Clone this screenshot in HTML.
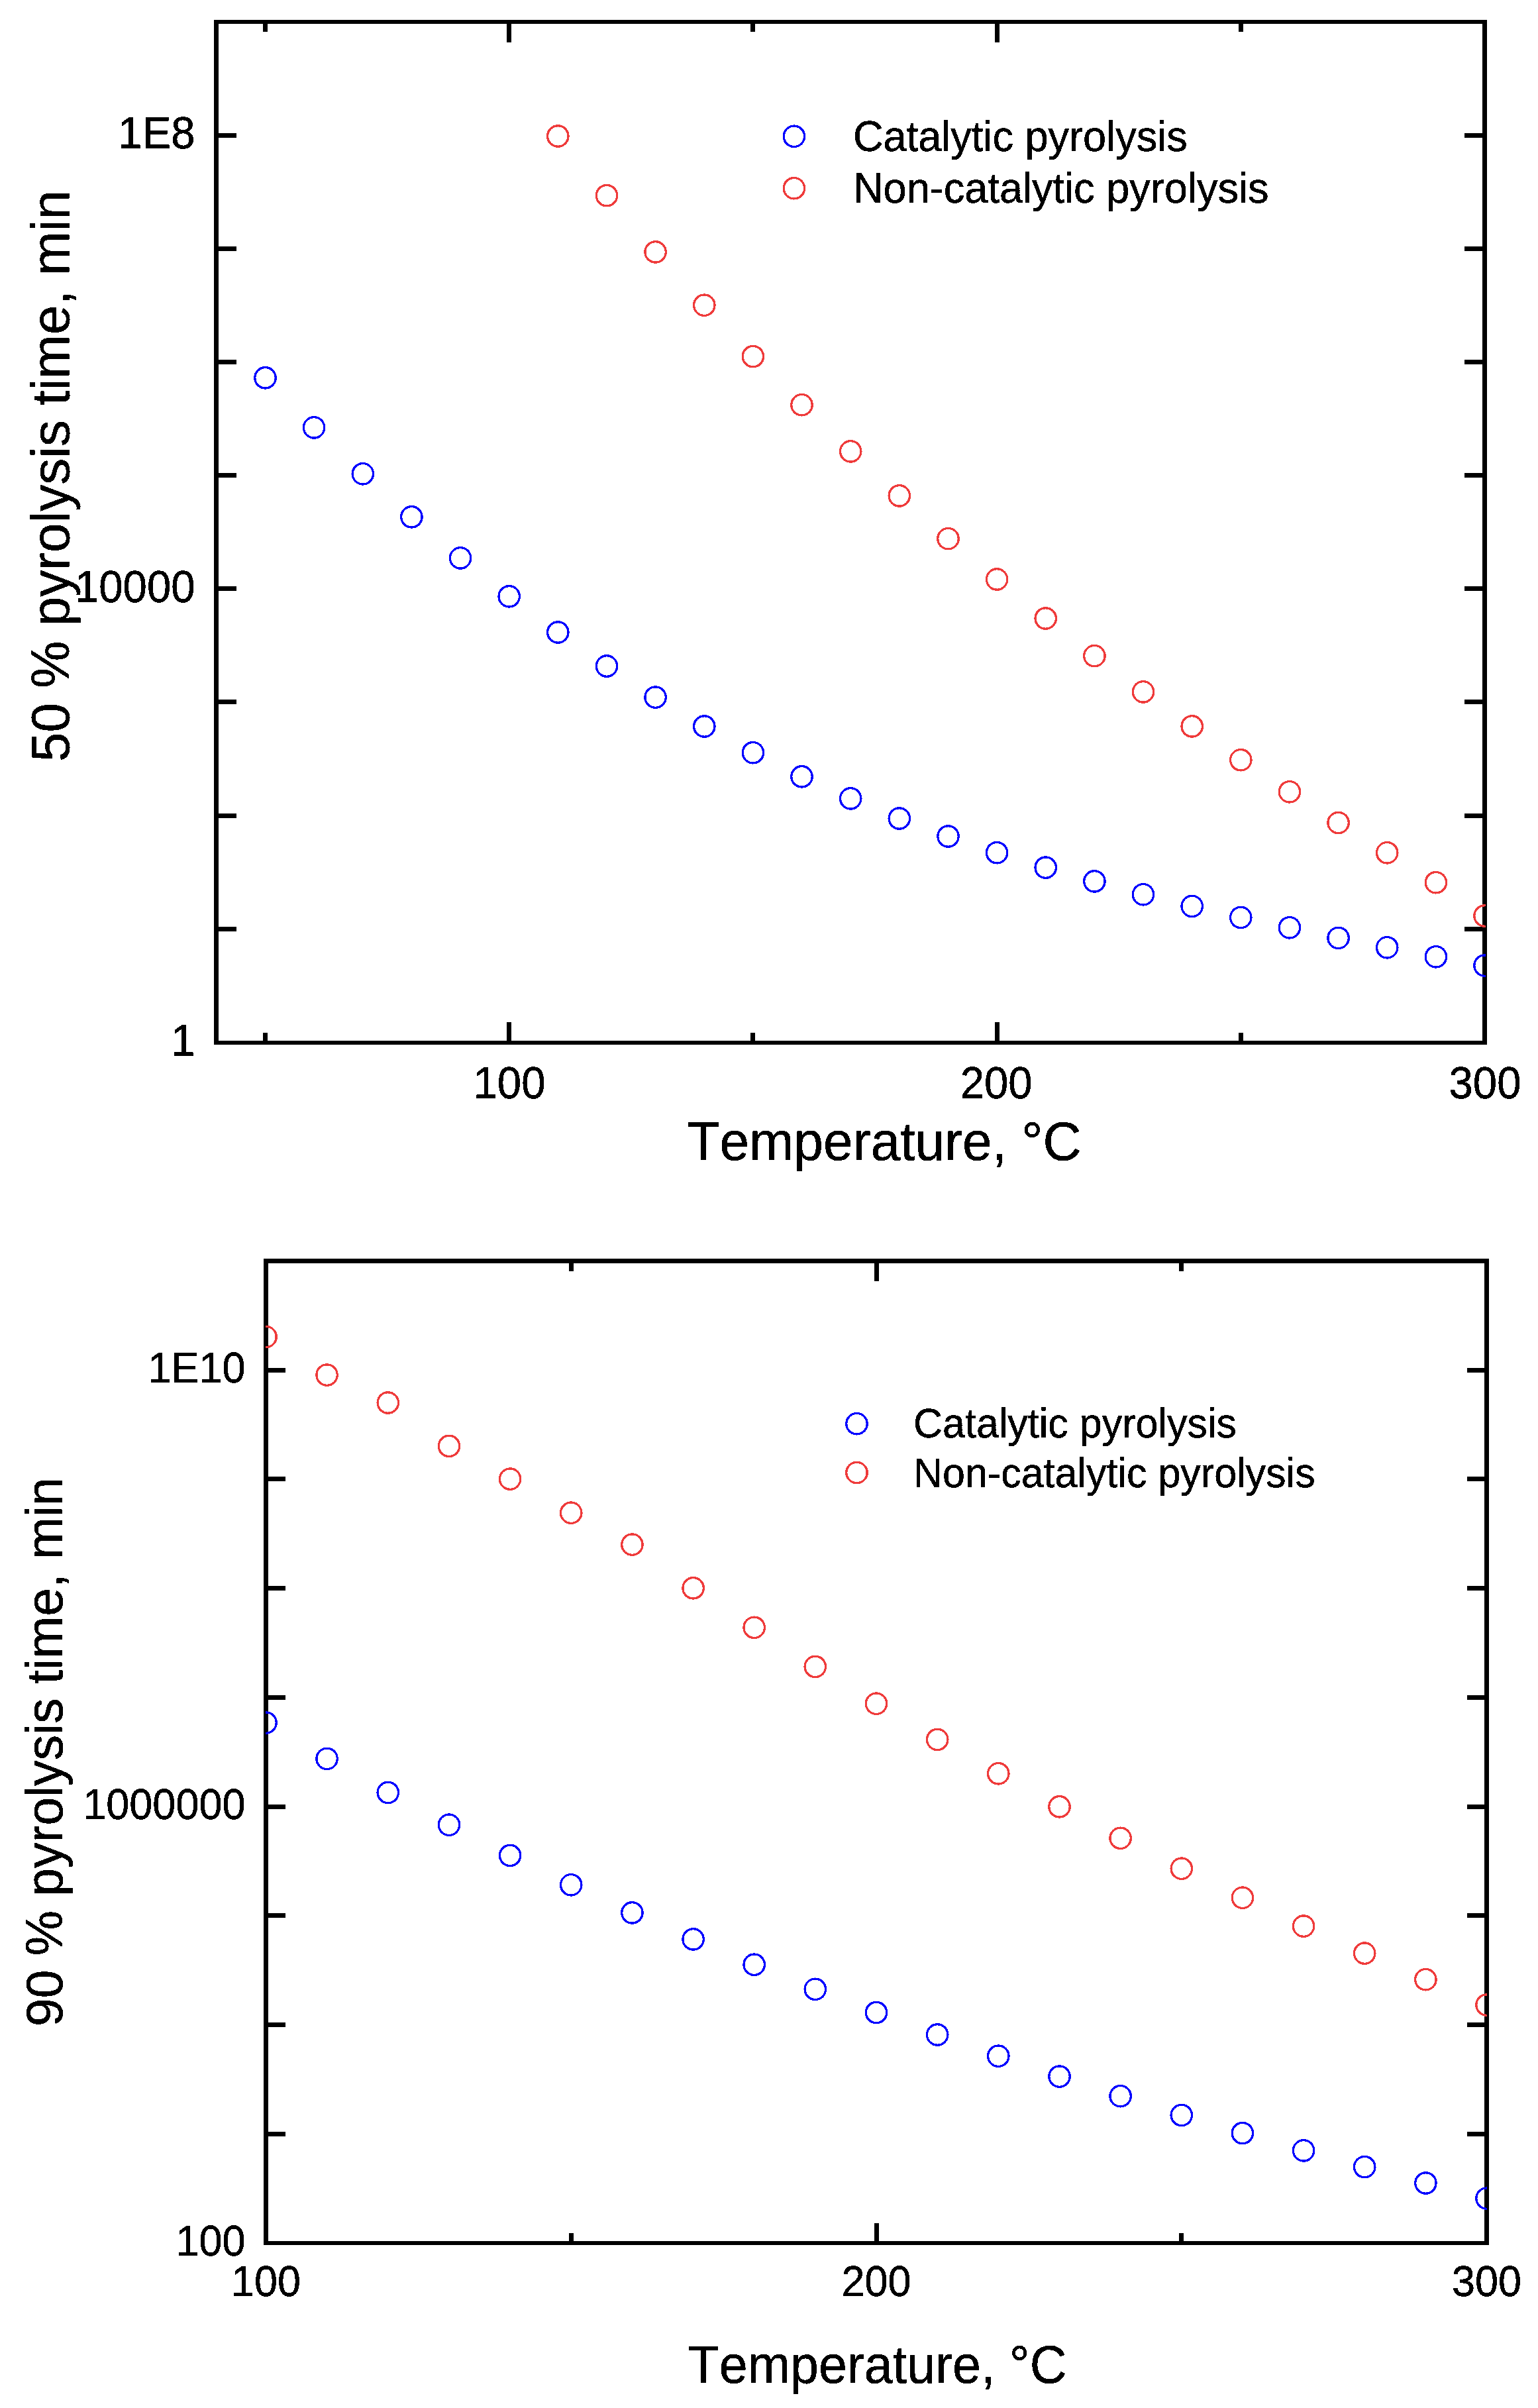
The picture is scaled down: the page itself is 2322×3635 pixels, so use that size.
<!DOCTYPE html>
<html lang="en"><head><meta charset="utf-8"><title>Pyrolysis time vs temperature</title>
<style>html,body{margin:0;padding:0;background:#fff}body{width:2322px;height:3635px;overflow:hidden}svg{display:block}text{font-family:"Liberation Sans",Arial,Helvetica,sans-serif;fill:#000;stroke:#000;stroke-width:0.5px;font-kerning:none;filter:url(#bw)}.fr{fill:#000;shape-rendering:crispEdges}.b{fill:none;stroke:#0000ff;stroke-width:3.3;shape-rendering:crispEdges}.r{fill:none;stroke:#ef3b3b;stroke-width:3.3;shape-rendering:crispEdges}</style></head><body>
<svg width="2322" height="3635" viewBox="0 0 2322 3635">
<defs><filter id="bw" x="-5%" y="-20%" width="110%" height="140%" color-interpolation-filters="sRGB"><feComponentTransfer><feFuncA type="discrete" tableValues="0 1"/></feComponentTransfer></filter></defs>
<rect x="0" y="0" width="2322" height="3635" fill="#fff"/>
<g id="plot1">
<rect class="fr" x="323" y="30" width="7" height="1547"/>
<rect class="fr" x="2238" y="30" width="7" height="1547"/>
<rect class="fr" x="323" y="30" width="1922" height="6"/>
<rect class="fr" x="323" y="1571" width="1922" height="6"/>
<rect class="fr" x="397" y="1559" width="7" height="18"/>
<rect class="fr" x="397" y="30" width="7" height="18"/>
<rect class="fr" x="765" y="1543" width="7" height="34"/>
<rect class="fr" x="765" y="30" width="7" height="34"/>
<rect class="fr" x="1133" y="1559" width="7" height="18"/>
<rect class="fr" x="1133" y="30" width="7" height="18"/>
<rect class="fr" x="1502" y="1543" width="7" height="34"/>
<rect class="fr" x="1502" y="30" width="7" height="34"/>
<rect class="fr" x="1870" y="1559" width="7" height="18"/>
<rect class="fr" x="1870" y="30" width="7" height="18"/>
<rect class="fr" x="323" y="201" width="34" height="7"/>
<rect class="fr" x="2211" y="201" width="34" height="7"/>
<rect class="fr" x="323" y="372" width="34" height="7"/>
<rect class="fr" x="2211" y="372" width="34" height="7"/>
<rect class="fr" x="323" y="543" width="34" height="7"/>
<rect class="fr" x="2211" y="543" width="34" height="7"/>
<rect class="fr" x="323" y="714" width="34" height="7"/>
<rect class="fr" x="2211" y="714" width="34" height="7"/>
<rect class="fr" x="323" y="885" width="34" height="7"/>
<rect class="fr" x="2211" y="885" width="34" height="7"/>
<rect class="fr" x="323" y="1056" width="34" height="7"/>
<rect class="fr" x="2211" y="1056" width="34" height="7"/>
<rect class="fr" x="323" y="1228" width="34" height="7"/>
<rect class="fr" x="2211" y="1228" width="34" height="7"/>
<rect class="fr" x="323" y="1399" width="34" height="7"/>
<rect class="fr" x="2211" y="1399" width="34" height="7"/>
<text transform="translate(769,1658.4) scale(1,1.05)" font-size="65.3" text-anchor="middle">100</text>
<text transform="translate(1504.2,1658.4) scale(1,1.05)" font-size="65.3" text-anchor="middle">200</text>
<text transform="translate(2242,1658.4) scale(1,1.05)" font-size="65.3" text-anchor="middle">300</text>
<text transform="translate(294.5,223.6) scale(1,1.05)" font-size="65.3" text-anchor="end">1E8</text>
<text transform="translate(294.5,908.6) scale(1,1.05)" font-size="65.3" text-anchor="end">10000</text>
<text transform="translate(294.5,1594) scale(1,1.05)" font-size="65.3" text-anchor="end">1</text>
<text transform="translate(1335,1751) scale(1,1.02)" font-size="80.4" text-anchor="middle">Temperature, °C</text>
<text transform="translate(104.4,1150) rotate(-90) scale(1,1.02)" font-size="80.06">50 % pyrolysis time, min</text>
<clipPath id="c1"><rect x="326.5" y="33" width="1916.5" height="1541"/></clipPath>
<g clip-path="url(#c1)">
<circle class="b" cx="400.5" cy="570.3" r="15.7"/>
<circle class="b" cx="474.1" cy="645.4" r="15.7"/>
<circle class="b" cx="547.8" cy="715.3" r="15.7"/>
<circle class="b" cx="621.4" cy="780.3" r="15.7"/>
<circle class="b" cx="695.1" cy="842.4" r="15.7"/>
<circle class="b" cx="768.7" cy="900.3" r="15.7"/>
<circle class="b" cx="842.3" cy="954.5" r="15.7"/>
<circle class="b" cx="916.0" cy="1005.5" r="15.7"/>
<circle class="b" cx="989.6" cy="1052.6" r="15.7"/>
<circle class="b" cx="1063.3" cy="1096.5" r="15.7"/>
<circle class="b" cx="1136.9" cy="1136.2" r="15.7"/>
<circle class="b" cx="1210.5" cy="1172.3" r="15.7"/>
<circle class="b" cx="1284.2" cy="1205.4" r="15.7"/>
<circle class="b" cx="1357.8" cy="1235.5" r="15.7"/>
<circle class="b" cx="1431.5" cy="1262.5" r="15.7"/>
<circle class="b" cx="1505.1" cy="1287.2" r="15.7"/>
<circle class="b" cx="1578.7" cy="1309.6" r="15.7"/>
<circle class="b" cx="1652.4" cy="1330.4" r="15.7"/>
<circle class="b" cx="1726.0" cy="1350.3" r="15.7"/>
<circle class="b" cx="1799.7" cy="1368.0" r="15.7"/>
<circle class="b" cx="1873.3" cy="1385.0" r="15.7"/>
<circle class="b" cx="1946.9" cy="1400.3" r="15.7"/>
<circle class="b" cx="2020.6" cy="1415.9" r="15.7"/>
<circle class="b" cx="2094.2" cy="1430.3" r="15.7"/>
<circle class="b" cx="2167.9" cy="1444.3" r="15.7"/>
<circle class="b" cx="2241.5" cy="1457.6" r="15.7"/>
<circle class="r" cx="842.3" cy="205.5" r="15.7"/>
<circle class="r" cx="916.0" cy="295.2" r="15.7"/>
<circle class="r" cx="989.6" cy="380.4" r="15.7"/>
<circle class="r" cx="1063.3" cy="460.7" r="15.7"/>
<circle class="r" cx="1136.9" cy="538.1" r="15.7"/>
<circle class="r" cx="1210.5" cy="611.2" r="15.7"/>
<circle class="r" cx="1284.2" cy="681.4" r="15.7"/>
<circle class="r" cx="1357.8" cy="748.4" r="15.7"/>
<circle class="r" cx="1431.5" cy="813.1" r="15.7"/>
<circle class="r" cx="1505.1" cy="874.5" r="15.7"/>
<circle class="r" cx="1578.7" cy="933.5" r="15.7"/>
<circle class="r" cx="1652.4" cy="990.1" r="15.7"/>
<circle class="r" cx="1726.0" cy="1044.4" r="15.7"/>
<circle class="r" cx="1799.7" cy="1096.4" r="15.7"/>
<circle class="r" cx="1873.3" cy="1147.2" r="15.7"/>
<circle class="r" cx="1946.9" cy="1195.3" r="15.7"/>
<circle class="r" cx="2020.6" cy="1242.0" r="15.7"/>
<circle class="r" cx="2094.2" cy="1287.3" r="15.7"/>
<circle class="r" cx="2167.9" cy="1332.2" r="15.7"/>
<circle class="r" cx="2241.5" cy="1382.5" r="15.7"/>
</g>
<circle class="b" cx="1198.9" cy="205.8" r="15.7"/>
<circle class="r" cx="1198.9" cy="284.2" r="15.7"/>
<text transform="translate(1288,228.3) scale(1,1.03)" font-size="63.1" text-anchor="start">Catalytic pyrolysis</text>
<text transform="translate(1288,306.3) scale(1,1.03)" font-size="63.1" text-anchor="start">Non-catalytic pyrolysis</text>
</g>
<g id="plot2">
<rect class="fr" x="398" y="1900" width="7" height="1489"/>
<rect class="fr" x="2241" y="1900" width="7" height="1489"/>
<rect class="fr" x="398" y="1900" width="1850" height="7"/>
<rect class="fr" x="398" y="3383" width="1850" height="6"/>
<rect class="fr" x="859" y="3371" width="7" height="18"/>
<rect class="fr" x="859" y="1900" width="7" height="19"/>
<rect class="fr" x="1320" y="3356" width="7" height="33"/>
<rect class="fr" x="1320" y="1900" width="7" height="34"/>
<rect class="fr" x="1780" y="3371" width="7" height="18"/>
<rect class="fr" x="1780" y="1900" width="7" height="19"/>
<rect class="fr" x="398" y="2065" width="33" height="7"/>
<rect class="fr" x="2215" y="2065" width="33" height="7"/>
<rect class="fr" x="398" y="2229" width="33" height="7"/>
<rect class="fr" x="2215" y="2229" width="33" height="7"/>
<rect class="fr" x="398" y="2394" width="33" height="7"/>
<rect class="fr" x="2215" y="2394" width="33" height="7"/>
<rect class="fr" x="398" y="2559" width="33" height="7"/>
<rect class="fr" x="2215" y="2559" width="33" height="7"/>
<rect class="fr" x="398" y="2724" width="33" height="7"/>
<rect class="fr" x="2215" y="2724" width="33" height="7"/>
<rect class="fr" x="398" y="2888" width="33" height="7"/>
<rect class="fr" x="2215" y="2888" width="33" height="7"/>
<rect class="fr" x="398" y="3053" width="33" height="7"/>
<rect class="fr" x="2215" y="3053" width="33" height="7"/>
<rect class="fr" x="398" y="3218" width="33" height="7"/>
<rect class="fr" x="2215" y="3218" width="33" height="7"/>
<text transform="translate(401.5,3466.3) scale(1,1.03)" font-size="63" text-anchor="middle">100</text>
<text transform="translate(1323,3466.3) scale(1,1.03)" font-size="63" text-anchor="middle">200</text>
<text transform="translate(2244.5,3466.3) scale(1,1.03)" font-size="63" text-anchor="middle">300</text>
<text transform="translate(370.5,2086.8) scale(1,1.03)" font-size="63" text-anchor="end">1E10</text>
<text transform="translate(370.5,2746.2) scale(1,1.03)" font-size="63" text-anchor="end">1000000</text>
<text transform="translate(370.5,3404.9) scale(1,1.03)" font-size="63" text-anchor="end">100</text>
<text transform="translate(1324.5,3597) scale(1,1.02)" font-size="77.3" text-anchor="middle">Temperature, °C</text>
<text transform="translate(93.9,3059.2) rotate(-90) scale(1,1.01)" font-size="76.9">90 % pyrolysis time, min</text>
<clipPath id="c2"><rect x="401" y="1903" width="1844" height="1483"/></clipPath>
<g clip-path="url(#c2)">
<circle class="b" cx="401.5" cy="2600.6" r="15.7"/>
<circle class="b" cx="493.6" cy="2654.9" r="15.7"/>
<circle class="b" cx="585.8" cy="2706.0" r="15.7"/>
<circle class="b" cx="678.0" cy="2754.7" r="15.7"/>
<circle class="b" cx="770.1" cy="2800.9" r="15.7"/>
<circle class="b" cx="862.2" cy="2845.3" r="15.7"/>
<circle class="b" cx="954.4" cy="2887.4" r="15.7"/>
<circle class="b" cx="1046.6" cy="2927.4" r="15.7"/>
<circle class="b" cx="1138.7" cy="2965.7" r="15.7"/>
<circle class="b" cx="1230.8" cy="3002.8" r="15.7"/>
<circle class="b" cx="1323.0" cy="3038.0" r="15.7"/>
<circle class="b" cx="1415.2" cy="3071.5" r="15.7"/>
<circle class="b" cx="1507.3" cy="3103.7" r="15.7"/>
<circle class="b" cx="1599.5" cy="3134.6" r="15.7"/>
<circle class="b" cx="1691.6" cy="3164.2" r="15.7"/>
<circle class="b" cx="1783.8" cy="3193.0" r="15.7"/>
<circle class="b" cx="1875.9" cy="3220.1" r="15.7"/>
<circle class="b" cx="1968.1" cy="3246.4" r="15.7"/>
<circle class="b" cx="2060.2" cy="3271.1" r="15.7"/>
<circle class="b" cx="2152.4" cy="3295.5" r="15.7"/>
<circle class="b" cx="2244.5" cy="3318.6" r="15.7"/>
<circle class="r" cx="401.5" cy="2018.0" r="15.7"/>
<circle class="r" cx="493.6" cy="2075.6" r="15.7"/>
<circle class="r" cx="585.8" cy="2117.5" r="15.7"/>
<circle class="r" cx="678.0" cy="2182.9" r="15.7"/>
<circle class="r" cx="770.1" cy="2232.6" r="15.7"/>
<circle class="r" cx="862.2" cy="2283.7" r="15.7"/>
<circle class="r" cx="954.4" cy="2331.6" r="15.7"/>
<circle class="r" cx="1046.6" cy="2397.3" r="15.7"/>
<circle class="r" cx="1138.7" cy="2456.8" r="15.7"/>
<circle class="r" cx="1230.8" cy="2515.9" r="15.7"/>
<circle class="r" cx="1323.0" cy="2571.7" r="15.7"/>
<circle class="r" cx="1415.2" cy="2625.9" r="15.7"/>
<circle class="r" cx="1507.3" cy="2677.3" r="15.7"/>
<circle class="r" cx="1599.5" cy="2727.3" r="15.7"/>
<circle class="r" cx="1691.6" cy="2774.8" r="15.7"/>
<circle class="r" cx="1783.8" cy="2820.7" r="15.7"/>
<circle class="r" cx="1875.9" cy="2864.7" r="15.7"/>
<circle class="r" cx="1968.1" cy="2907.6" r="15.7"/>
<circle class="r" cx="2060.2" cy="2948.6" r="15.7"/>
<circle class="r" cx="2152.4" cy="2988.2" r="15.7"/>
<circle class="r" cx="2244.5" cy="3026.6" r="15.7"/>
</g>
<circle class="b" cx="1293.5" cy="2149.2" r="15.7"/>
<circle class="r" cx="1293.5" cy="2223" r="15.7"/>
<text transform="translate(1379,2169.8) scale(1,1.03)" font-size="61" text-anchor="start">Catalytic pyrolysis</text>
<text transform="translate(1379,2245.3) scale(1,1.03)" font-size="61" text-anchor="start">Non-catalytic pyrolysis</text>
</g>
</svg></body></html>
